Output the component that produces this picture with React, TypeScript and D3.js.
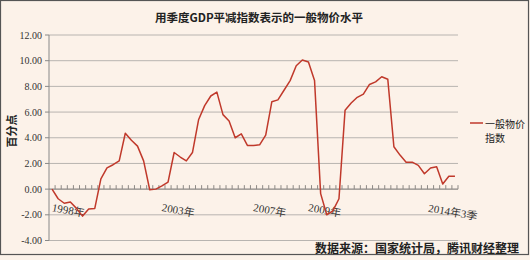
import React from "react";
import * as d3 from "d3";

const years = d3.range(1998, 2015);
const categories: string[] = [];
years.forEach((y) => {
  [1, 2, 3, 4].forEach((q) => {
    if (y < 2014 || q <= 3) categories.push(`${y}Q${q}`);
  });
});

const deflatorValues = [
  0.0, -0.75, -1.1, -1.0, -1.5, -2.1, -1.55, -1.5, 0.8, 1.65,
  1.9, 2.2, 4.35, 3.8, 3.35, 2.2, -0.05, 0.0, 0.25, 0.55,
  2.85, 2.5, 2.2, 2.85, 5.4, 6.5, 7.25, 7.55, 5.8, 5.3,
  4.0, 4.3, 3.4, 3.4, 3.45, 4.2, 6.8, 6.95, 7.7, 8.45,
  9.6, 10.05, 9.9, 8.45, -0.35, -2.0, -1.7, -0.75, 6.15, 6.7,
  7.15, 7.4, 8.15, 8.35, 8.75, 8.55, 3.3, 2.65, 2.1, 2.1,
  1.85, 1.2, 1.65, 1.75, 0.4, 1.0, 1.0,
];

const xTickCategories = ["1998Q4", "2003Q2", "2007Q1", "2009Q2", "2014Q3"];
const xTickLabels = ["1998年", "2003年", "2007年", "2009年", "2014年3季"];
const yTicks = [-4, -2, 0, 2, 4, 6, 8, 10, 12];

const title = "用季度GDP平减指数表示的一般物价水平";
const yTitle = "百分点";
const legendLines = ["一般物价", "指数"];
const source = "数据来源：国家统计局，腾讯财经整理";

const W = 530;
const H = 260;
const L = 49;
const R = 458;
const T = 35;
const B = 240.5;
const BG = "#FCF2E9";
const LINE = "#C0392B";
const CJK = "'Noto Sans CJK SC', sans-serif";
const NUM = "'Liberation Serif', 'Noto Sans CJK SC', serif";

export default function App() {
  const x = d3.scaleBand<string>().domain(categories).range([L, R]).padding(0);
  const y = d3.scaleLinear().domain([-4, 12]).range([B, T]);
  const cx = (c: string) => (x(c) as number) + x.bandwidth() / 2;
  const line = d3
    .line<number>()
    .x((_, i) => cx(categories[i]))
    .y((d) => y(d));
  const y0 = y(0);

  return (
    <div style={{ position: "fixed", left: 0, top: 0 }}>
      <svg width={W} height={H} style={{ display: "block" }}>
        <rect x={0} y={0} width={W} height={H} fill={BG} />
        <rect x={0.5} y={0.5} width={528} height={254} fill="none" stroke="#555" strokeWidth={1.2} />
        <text x={259} y={17} textAnchor="middle" dominantBaseline="central" fontFamily={CJK} fontSize={11.5} fontWeight={600} fill="#222">
          {title}
        </text>
        {yTicks.map((t) => (
          <g key={t}>
            <line x1={L} x2={R} y1={y(t)} y2={y(t)} stroke="#B8B4B0" strokeWidth={1} />
            <line x1={L - 4} x2={L} y1={y(t)} y2={y(t)} stroke="#888" strokeWidth={1} />
            <text x={42} y={y(t)} textAnchor="end" dominantBaseline="central" fontFamily={NUM} fontSize={10} fill="#333">
              {t.toFixed(2)}
            </text>
          </g>
        ))}
        <line x1={L} x2={L} y1={T} y2={B} stroke="#888" strokeWidth={1} />
        <line x1={L} x2={R} y1={y0} y2={y0} stroke="#8E8A86" strokeWidth={1} />
        {categories.map((c) => (
          <line key={c} x1={(x(c) as number) + x.bandwidth()} x2={(x(c) as number) + x.bandwidth()} y1={y0} y2={y0 - 4} stroke="#8E8A86" strokeWidth={1} />
        ))}
        {xTickCategories.map((c, i) => {
          const px = cx(c) - 2;
          const py = i === xTickCategories.length - 1 ? 212 : 210;
          return (
            <text key={c} x={px} y={py} textAnchor="middle" dominantBaseline="central" transform={`rotate(10 ${px} ${py})`} fontFamily={NUM} fontSize={11} fill="#333">
              {xTickLabels[i]}
            </text>
          );
        })}
        <path d={line(deflatorValues) as string} fill="none" stroke={LINE} strokeWidth={1.5} strokeLinejoin="round" />
        <text x={11} y={131} textAnchor="middle" dominantBaseline="central" transform="rotate(-90 11 131)" fontFamily={CJK} fontSize={11} fontWeight={600} fill="#222">
          {yTitle}
        </text>
        <line x1={470} x2={483} y1={123} y2={123} stroke={LINE} strokeWidth={1.5} />
        {legendLines.map((s, i) => (
          <text key={s} x={485} y={123 + i * 14} dominantBaseline="central" fontFamily={CJK} fontSize={10} fill="#222">
            {s}
          </text>
        ))}
        <text x={315} y={247} dominantBaseline="central" fontFamily={CJK} fontSize={12} fontWeight={700} fill="#222">
          {source}
        </text>
      </svg>
    </div>
  );
}
